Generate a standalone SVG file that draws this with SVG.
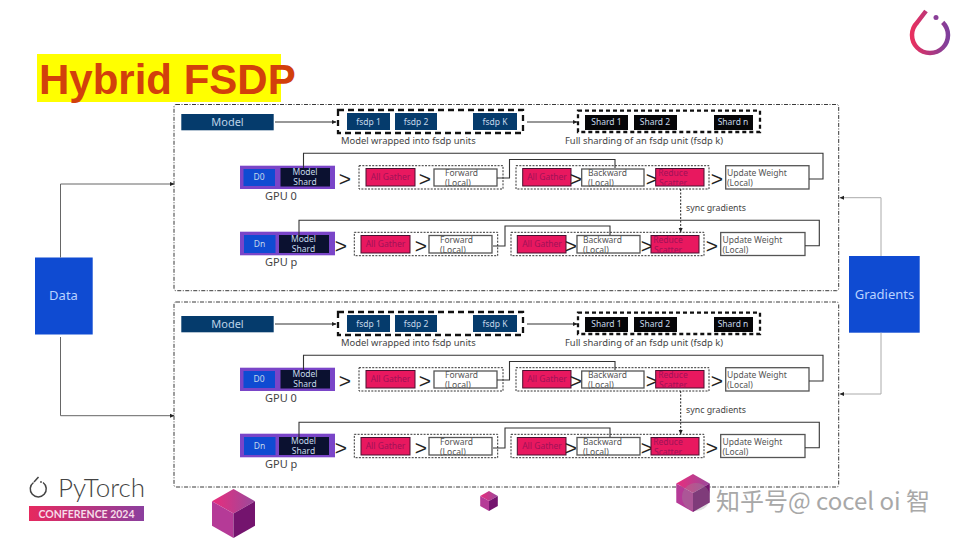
<svg xmlns="http://www.w3.org/2000/svg" xmlns:xlink="http://www.w3.org/1999/xlink" width="960" height="540" viewBox="0 0 960 540">
<style>
text{font-family:"Noto Sans","Liberation Sans",sans-serif}
.panel{fill:none;stroke:#222;stroke-width:.9;stroke-dasharray:4 1.5 1 1.5}
.model{fill:#053b6c}
.unit{fill:#053b6c}
.shard{fill:#060608}
.thick{fill:none;stroke:#111;stroke-width:2.3;stroke-dasharray:6 4}
.dots{fill:none;stroke:#333;stroke-width:1;stroke-dasharray:2 1.3}
.gpu{fill:#7a45c8}
.blue{fill:#0f4bd2}
.navy{fill:#0b1130}
.pink{fill:#e8185f;stroke:#4a1030;stroke-width:1}
.white{fill:#fff;stroke:#555;stroke-width:1.3}
.lt{fill:#c6d8ea;font-size:8.5px;text-anchor:middle}
.lm{fill:#bcd2e6;font-size:11px;text-anchor:middle}
.pt{fill:#a01258;font-size:8.5px;text-anchor:middle}
.wt{fill:#555;font-size:8.5px}
.cap{fill:#444;font-size:9.4px}
.gl{fill:#444;font-size:11px}
.ch{fill:#222;font-size:21px;text-anchor:middle;font-family:"Liberation Sans",sans-serif}
.line{fill:none;stroke:#333;stroke-width:1.1}
.sync{fill:none;stroke:#222;stroke-width:1;stroke-dasharray:2 1.5}
.side{fill:none;stroke:#666;stroke-width:1}
.side2{fill:none;stroke:#aaa;stroke-width:1}
.big{fill:#0f4bd2}
.bigt{fill:#b9d2ff;font-size:13px;text-anchor:middle}
</style>
<defs>
<marker id="a" markerWidth="5" markerHeight="5" refX="4" refY="2.5" orient="auto"><path d="M0 .5L4.5 2.5L0 4.500z" fill="#222"/></marker>
<linearGradient id="g" x1="0" x2="1" y1="0" y2="0"><stop offset="0" stop-color="#e8305f"/><stop offset="1" stop-color="#7f3f9c"/></linearGradient>
<linearGradient id="gr" x1="0" x2="1" y1="0" y2="0"><stop offset="0" stop-color="#e6295f"/><stop offset="1" stop-color="#8b3f9e"/></linearGradient>
<linearGradient id="ct" x1="0" x2="1" y1="0" y2="0"><stop offset="0" stop-color="#ea2c7c"/><stop offset="1" stop-color="#9a4a9c"/></linearGradient>
<symbol id="cube" viewBox="0 0 44 50"><polygon points="22,0 44,12.500 22,25 0,12.500" fill="url(#ct)"/><polygon points="0,12.500 22,25 22,50 0,37.500" fill="#b53a97"/><polygon points="44,12.500 22,25 22,50 44,37.500" fill="#74146e"/></symbol>
</defs>
<rect width="960" height="540" fill="#fff"/>
<g id="title"><rect x="37" y="54" width="244" height="48" fill="#ffff00"/><text x="39" y="94" font-size="42" font-weight="700" fill="#d2400c" style="font-family:'Liberation Sans',sans-serif">Hybrid FSDP</text></g>
<g id="logo-top"><path d="M926 11L917.300 22.300A18 18 0 1 0 942.700 22.300" fill="none" stroke="url(#g)" stroke-width="4.500"/><circle cx="936" cy="17.500" r="2.500" fill="#8a3f98"/></g>
<rect id="panel-1" class="panel" x="174" y="104.500" width="664.700" height="186.200" rx="2"/>
<rect id="panel-2" class="panel" x="174" y="302" width="664.700" height="185" rx="2"/>

<g id="data"><rect class="big" x="35" y="257.500" width="57.700" height="77"/><text class="bigt" x="63.500" y="300">Data</text></g>
<g id="gradients"><rect class="big" x="849" y="256" width="70.700" height="76.700"/><text class="bigt" x="884.500" y="298.500">Gradients</text></g>

<g id="panel1-nodes">
<g id="model-1"><rect class="model" x="181.300" y="114" width="92.400" height="16.300"/><text class="lm" x="227.500" y="126">Model</text></g>
<g id="fsdp-units-1"><rect class="thick" x="338" y="110" width="185" height="23"/>
<rect class="unit" x="347" y="113" width="43" height="17"/><text class="lt" x="368.500" y="124.500">fsdp 1</text>
<rect class="unit" x="395" y="113" width="42" height="17"/><text class="lt" x="416" y="124.500">fsdp 2</text>
<rect class="unit" x="473" y="113" width="44" height="17"/><text class="lt" x="495" y="124.500">fsdp K</text>
<text class="cap" x="341" y="144">Model wrapped into fsdp units</text></g>
<g id="shards-1"><rect class="thick" x="578" y="110.700" width="182" height="21.300" style="stroke-dasharray:4 3"/>
<rect class="shard" x="585" y="115" width="43" height="15"/><text class="lt" x="606.500" y="125">Shard 1</text>
<rect class="shard" x="634" y="115" width="43" height="15"/><text class="lt" x="655" y="125">Shard 2</text>
<rect class="shard" x="714" y="115" width="39" height="15"/><text class="lt" x="733" y="125">Shard n</text>
<text class="cap" x="565" y="144">Full sharding of an fsdp unit (fsdp k)</text></g>
<g id="gpu0-1"><rect class="gpu" x="240" y="165.700" width="95" height="23.300"/><rect class="blue" x="243.500" y="169" width="31.500" height="17"/><text class="lt" x="259" y="180">D0</text><rect class="navy" x="280.500" y="168" width="49.500" height="18.500"/><text class="lt" x="305" y="175">Model</text><text class="lt" x="305" y="185">Shard</text><text class="gl" x="265" y="200">GPU 0</text><text class="ch" x="345" y="186">&gt;</text></g>
<g id="pre0-1"><rect class="dots" x="359" y="165.700" width="144" height="23.300"/><rect class="pink" x="366" y="168.500" width="49" height="17.500"/><text class="pt" x="390.500" y="180">All Gather</text><text class="ch" x="425" y="186">&gt;</text><rect class="white" x="434" y="169" width="63" height="17"/><text class="wt" x="445" y="175.500">Forward</text><text class="wt" x="445" y="185.500">(Local)</text></g>
<g id="post0-1"><rect class="dots" x="516" y="165.700" width="193" height="23.300"/><rect class="pink" x="522.700" y="168.500" width="48.300" height="17.500"/><text class="pt" x="547" y="180">All Gather</text><text class="ch" x="576" y="186">&gt;</text><rect class="white" x="581.700" y="169" width="62.300" height="17"/><text class="wt" x="588" y="175.500">Backward</text><text class="wt" x="588" y="185.500">(Local)</text><text class="ch" x="652" y="186">&gt;</text><rect class="pink" x="655.700" y="168.500" width="48.300" height="17.500"/><text class="pt" x="673" y="175.500">Reduce</text><text class="pt" x="673" y="185.500">Scatter</text></g>
<g id="update0-1"><text class="ch" x="717" y="186">&gt;</text><rect class="white" x="725.700" y="165.700" width="83.300" height="23.300"/><text class="wt" x="727" y="175.500">Update Weight</text><text class="wt" x="727" y="185.500">(Local)</text></g>
<text class="cap" x="686" y="211" style="font-size:8.800px">sync gradients</text>
<g id="gpup-1"><rect class="gpu" x="240" y="231.700" width="95" height="23.600"/><rect class="blue" x="244" y="235" width="31.500" height="18"/><text class="lt" x="259.500" y="247">Dn</text><rect class="navy" x="279" y="235" width="50" height="18"/><text class="lt" x="303.500" y="241.500">Model</text><text class="lt" x="303.500" y="252">Shard</text><text class="gl" x="265" y="265.500">GPU p</text><text class="ch" x="341" y="253">&gt;</text></g>
<g id="prep-1"><rect class="dots" x="354.300" y="232.300" width="143.400" height="23.400"/><rect class="pink" x="361" y="235.500" width="49" height="17.500"/><text class="pt" x="385.500" y="247">All Gather</text><text class="ch" x="421" y="253">&gt;</text><rect class="white" x="429" y="235.500" width="63" height="17.500"/><text class="wt" x="440" y="242.500">Forward</text><text class="wt" x="440" y="252.500">(Local)</text></g>
<g id="postp-1"><rect class="dots" x="511" y="232.300" width="193" height="23.400"/><rect class="pink" x="517.300" y="235.500" width="48.700" height="17.500"/><text class="pt" x="542" y="247">All Gather</text><text class="ch" x="571" y="253">&gt;</text><rect class="white" x="577" y="235.500" width="63" height="17.500"/><text class="wt" x="583" y="242.500">Backward</text><text class="wt" x="583" y="252.500">(Local)</text><text class="ch" x="647" y="253">&gt;</text><rect class="pink" x="651" y="235.500" width="48" height="17.500"/><text class="pt" x="668" y="242.500">Reduce</text><text class="pt" x="668" y="252.500">Scatter</text></g>
<g id="updatep-1"><text class="ch" x="712" y="253">&gt;</text><rect class="white" x="720.700" y="232.500" width="84.300" height="23"/><text class="wt" x="722.500" y="242.500">Update Weight</text><text class="wt" x="722.500" y="252.500">(Local)</text></g>
</g>

<g id="panel2-nodes" transform="translate(0,202)">
<g id="model-2"><rect class="model" x="181.300" y="114" width="92.400" height="16.300"/><text class="lm" x="227.500" y="126">Model</text></g>
<g id="fsdp-units-2"><rect class="thick" x="338" y="110" width="185" height="23"/>
<rect class="unit" x="347" y="113" width="43" height="17"/><text class="lt" x="368.500" y="124.500">fsdp 1</text>
<rect class="unit" x="395" y="113" width="42" height="17"/><text class="lt" x="416" y="124.500">fsdp 2</text>
<rect class="unit" x="473" y="113" width="44" height="17"/><text class="lt" x="495" y="124.500">fsdp K</text>
<text class="cap" x="341" y="144">Model wrapped into fsdp units</text></g>
<g id="shards-2"><rect class="thick" x="578" y="110.700" width="182" height="21.300" style="stroke-dasharray:4 3"/>
<rect class="shard" x="585" y="115" width="43" height="15"/><text class="lt" x="606.500" y="125">Shard 1</text>
<rect class="shard" x="634" y="115" width="43" height="15"/><text class="lt" x="655" y="125">Shard 2</text>
<rect class="shard" x="714" y="115" width="39" height="15"/><text class="lt" x="733" y="125">Shard n</text>
<text class="cap" x="565" y="144">Full sharding of an fsdp unit (fsdp k)</text></g>
<g id="gpu0-2"><rect class="gpu" x="240" y="165.700" width="95" height="23.300"/><rect class="blue" x="243.500" y="169" width="31.500" height="17"/><text class="lt" x="259" y="180">D0</text><rect class="navy" x="280.500" y="168" width="49.500" height="18.500"/><text class="lt" x="305" y="175">Model</text><text class="lt" x="305" y="185">Shard</text><text class="gl" x="265" y="200">GPU 0</text><text class="ch" x="345" y="186">&gt;</text></g>
<g id="pre0-2"><rect class="dots" x="359" y="165.700" width="144" height="23.300"/><rect class="pink" x="366" y="168.500" width="49" height="17.500"/><text class="pt" x="390.500" y="180">All Gather</text><text class="ch" x="425" y="186">&gt;</text><rect class="white" x="434" y="169" width="63" height="17"/><text class="wt" x="445" y="175.500">Forward</text><text class="wt" x="445" y="185.500">(Local)</text></g>
<g id="post0-2"><rect class="dots" x="516" y="165.700" width="193" height="23.300"/><rect class="pink" x="522.700" y="168.500" width="48.300" height="17.500"/><text class="pt" x="547" y="180">All Gather</text><text class="ch" x="576" y="186">&gt;</text><rect class="white" x="581.700" y="169" width="62.300" height="17"/><text class="wt" x="588" y="175.500">Backward</text><text class="wt" x="588" y="185.500">(Local)</text><text class="ch" x="652" y="186">&gt;</text><rect class="pink" x="655.700" y="168.500" width="48.300" height="17.500"/><text class="pt" x="673" y="175.500">Reduce</text><text class="pt" x="673" y="185.500">Scatter</text></g>
<g id="update0-2"><text class="ch" x="717" y="186">&gt;</text><rect class="white" x="725.700" y="165.700" width="83.300" height="23.300"/><text class="wt" x="727" y="175.500">Update Weight</text><text class="wt" x="727" y="185.500">(Local)</text></g>
<text class="cap" x="686" y="211" style="font-size:8.800px">sync gradients</text>
<g id="gpup-2"><rect class="gpu" x="240" y="231.700" width="95" height="23.600"/><rect class="blue" x="244" y="235" width="31.500" height="18"/><text class="lt" x="259.500" y="247">Dn</text><rect class="navy" x="279" y="235" width="50" height="18"/><text class="lt" x="303.500" y="241.500">Model</text><text class="lt" x="303.500" y="252">Shard</text><text class="gl" x="265" y="265.500">GPU p</text><text class="ch" x="341" y="253">&gt;</text></g>
<g id="prep-2"><rect class="dots" x="354.300" y="232.300" width="143.400" height="23.400"/><rect class="pink" x="361" y="235.500" width="49" height="17.500"/><text class="pt" x="385.500" y="247">All Gather</text><text class="ch" x="421" y="253">&gt;</text><rect class="white" x="429" y="235.500" width="63" height="17.500"/><text class="wt" x="440" y="242.500">Forward</text><text class="wt" x="440" y="252.500">(Local)</text></g>
<g id="postp-2"><rect class="dots" x="511" y="232.300" width="193" height="23.400"/><rect class="pink" x="517.300" y="235.500" width="48.700" height="17.500"/><text class="pt" x="542" y="247">All Gather</text><text class="ch" x="571" y="253">&gt;</text><rect class="white" x="577" y="235.500" width="63" height="17.500"/><text class="wt" x="583" y="242.500">Backward</text><text class="wt" x="583" y="252.500">(Local)</text><text class="ch" x="647" y="253">&gt;</text><rect class="pink" x="651" y="235.500" width="48" height="17.500"/><text class="pt" x="668" y="242.500">Reduce</text><text class="pt" x="668" y="252.500">Scatter</text></g>
<g id="updatep-2"><text class="ch" x="712" y="253">&gt;</text><rect class="white" x="720.700" y="232.500" width="84.300" height="23"/><text class="wt" x="722.500" y="242.500">Update Weight</text><text class="wt" x="722.500" y="252.500">(Local)</text></g>
</g>

<g id="connectors">
<path class="side" d="M60.500 257.500V184H174" marker-end="url(#a)"/>
<path class="side" d="M60.500 337V415.700H174" marker-end="url(#a)"/>
<path class="side2" d="M881 256V197.700H840" marker-end="url(#a)"/>
<path class="side2" d="M881 332.700V394H840" marker-end="url(#a)"/>
<g id="connectors-1">
<path class="line" d="M275 122H336" marker-end="url(#a)"/>
<path class="line" d="M527 122H577" marker-end="url(#a)"/>
<path class="line" d="M303.500 168V153.300H823V179H809"/>
<path class="line" d="M497 178H509.500V159.500H615V168"/>
<path class="line" d="M299 235V220.300H819.300V245.700H805"/>
<path class="line" d="M493 246H505V226H610V235"/>
<path class="sync" d="M680.700 189V232" marker-end="url(#a)"/>
</g>
<g id="connectors-2" transform="translate(0,202)">
<path class="line" d="M275 122H336" marker-end="url(#a)"/>
<path class="line" d="M527 122H577" marker-end="url(#a)"/>
<path class="line" d="M303.500 168V153.300H823V179H809"/>
<path class="line" d="M497 178H509.500V159.500H615V168"/>
<path class="line" d="M299 235V220.300H819.300V245.700H805"/>
<path class="line" d="M493 246H505V226H610V235"/>
<path class="sync" d="M680.700 189V232" marker-end="url(#a)"/>
</g>
</g>

<g id="pytorch-logo"><path d="M33.500 482.500A8 8 0 1 0 43 482.500" fill="none" stroke="#444" stroke-width="1.500"/><path d="M38.500 477L34 482" fill="none" stroke="#444" stroke-width="1.500"/><circle cx="41" cy="482" r=".9" fill="#444"/><text x="58" y="497" font-size="26" fill="#444" style="font-family:'Lato','Noto Sans',sans-serif;font-weight:300">PyTorch</text><rect x="29" y="506" width="115" height="15" fill="url(#gr)"/><text x="86.500" y="517.500" font-size="10.500" font-weight="700" fill="#f6dce8" text-anchor="middle" style="font-family:'Lato','Noto Sans',sans-serif">CONFERENCE 2024</text></g>
<g id="cubes"><use xlink:href="#cube" href="#cube" x="212" y="489" width="43" height="49"/><use xlink:href="#cube" href="#cube" x="480" y="491" width="18" height="20"/><use xlink:href="#cube" href="#cube" x="676" y="474" width="34" height="38"/></g>
<g id="watermark"><circle cx="696" cy="497" r="14" fill="#999" opacity=".3"/><text x="716" y="510" font-size="24" fill="#999" opacity=".85" style="font-family:'Noto Sans CJK SC','Noto Sans',sans-serif">知乎号@ cocel oi 智</text></g>
</svg>
